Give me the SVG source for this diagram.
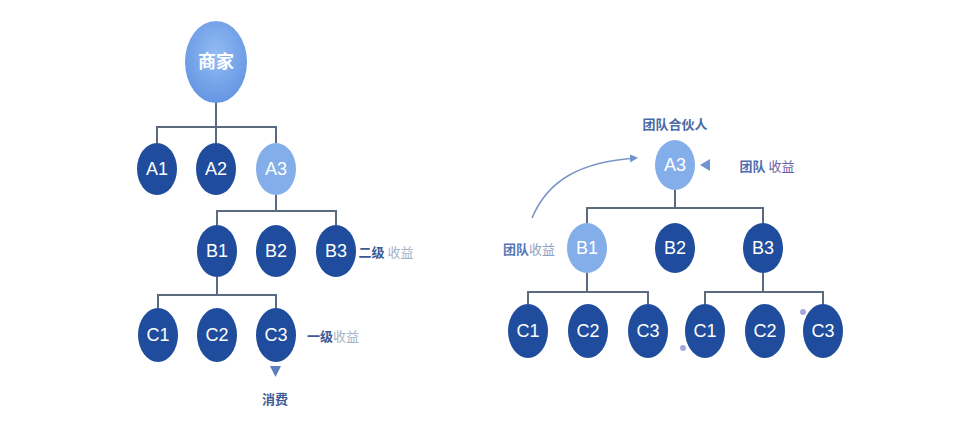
<svg xmlns="http://www.w3.org/2000/svg" width="962" height="438" viewBox="0 0 962 438">
<style>
.dk{fill:#1f4c9c}
.lt{fill:#84aee9}
.nt{font-family:"Liberation Sans","Noto Sans CJK SC",sans-serif;font-size:18px;fill:#ffffff;text-anchor:middle;dominant-baseline:central}
.ln{stroke:#5c6a80;stroke-width:2;fill:none}
.lb{font-family:"Noto Sans CJK SC",sans-serif;font-size:13px;text-anchor:middle;dominant-baseline:central}
</style>
<defs>
<radialGradient id="g1" cx="50%" cy="40%" r="60%">
<stop offset="0" stop-color="#94bcf3"/>
<stop offset="1" stop-color="#6596e3"/>
</radialGradient>
<marker id="ah" markerWidth="8" markerHeight="8" refX="6" refY="4" orient="auto" markerUnits="userSpaceOnUse">
<path d="M0,0 L8,4 L0,8 Z" fill="#6f93cf"/>
</marker>
</defs>
<rect width="962" height="438" fill="#ffffff"/>
<g id="connectors">
<path class="ln" d="M216,102 V127 M157,143 V127 H276 V143 M216,127 V143"/>
<path class="ln" d="M276,195 V211 M217,225 V211 H336 V225"/>
<path class="ln" d="M217,277 V295 M158,308 V295 H276 V308"/>
<path class="ln" d="M675,190 V208 M587,223 V208 H763 V223"/>
<path class="ln" d="M587,273 V292 M528,305 V292 H648 V305"/>
<path class="ln" d="M763,273 V292 M705,305 V292 H823 V305"/>
<path d="M532,218 C548,180 580,162 636,158" fill="none" stroke="#7c96c4" stroke-width="1.6" marker-end="url(#ah)"/>
<path d="M270,366 L281,366 L275.5,377 Z" fill="#5b7fbf"/>
<path d="M700,165 L710,159 L710,171 Z" fill="#6f93cf"/>
</g>
<g id="merchant"><ellipse cx="216" cy="62" rx="31" ry="41" fill="url(#g1)"/><text class="nt" x="216" y="62" font-size="22" font-weight="bold">商家</text></g>
<g id="L-A1"><ellipse class="dk" cx="157" cy="169" rx="20" ry="26"/><text class="nt" x="157" y="169">A1</text></g>
<g id="L-A2"><ellipse class="dk" cx="216" cy="169" rx="20" ry="26"/><text class="nt" x="216" y="169">A2</text></g>
<g id="L-A3"><ellipse class="lt" cx="276" cy="169" rx="20" ry="26"/><text class="nt" x="276" y="169">A3</text></g>
<g id="L-B1"><ellipse class="dk" cx="217" cy="251" rx="20" ry="26"/><text class="nt" x="217" y="251">B1</text></g>
<g id="L-B2"><ellipse class="dk" cx="276" cy="251" rx="20" ry="26"/><text class="nt" x="276" y="251">B2</text></g>
<g id="L-B3"><ellipse class="dk" cx="336" cy="251" rx="20" ry="26"/><text class="nt" x="336" y="251">B3</text></g>
<g id="L-C1"><ellipse class="dk" cx="158" cy="335" rx="20" ry="27"/><text class="nt" x="158" y="335">C1</text></g>
<g id="L-C2"><ellipse class="dk" cx="217" cy="335" rx="20" ry="27"/><text class="nt" x="217" y="335">C2</text></g>
<g id="L-C3"><ellipse class="dk" cx="276" cy="335" rx="20" ry="27"/><text class="nt" x="276" y="335">C3</text></g>
<g id="L-labels">
<text class="lb" x="386" y="251"><tspan fill="#3d5a96" font-weight="bold">二级</tspan><tspan fill="#a4b3c8"> 收益</tspan></text>
<text class="lb" x="333" y="335"><tspan fill="#3d5a96" font-weight="bold">一级</tspan><tspan fill="#a4b3c8">收益</tspan></text>
<text class="lb" x="275" y="398" fill="#3d5a96" font-weight="bold">消费</text>
</g>
<g id="R-A3"><ellipse class="lt" cx="675" cy="165" rx="20" ry="25"/><text class="nt" x="675" y="165">A3</text></g>
<g id="R-B1"><ellipse class="lt" cx="587" cy="248" rx="20" ry="25"/><text class="nt" x="587" y="248">B1</text></g>
<g id="R-B2"><ellipse class="dk" cx="675" cy="248" rx="20" ry="25"/><text class="nt" x="675" y="248">B2</text></g>
<g id="R-B3"><ellipse class="dk" cx="763" cy="248" rx="20" ry="25"/><text class="nt" x="763" y="248">B3</text></g>
<g id="R-C1a"><ellipse class="dk" cx="528" cy="331" rx="20" ry="27"/><text class="nt" x="528" y="331">C1</text></g>
<g id="R-C2a"><ellipse class="dk" cx="588" cy="331" rx="20" ry="27"/><text class="nt" x="588" y="331">C2</text></g>
<g id="R-C3a"><ellipse class="dk" cx="648" cy="331" rx="20" ry="27"/><text class="nt" x="648" y="331">C3</text></g>
<g id="R-C1b"><ellipse class="dk" cx="705" cy="331" rx="20" ry="27"/><text class="nt" x="705" y="331">C1</text></g>
<g id="R-C2b"><ellipse class="dk" cx="765" cy="331" rx="20" ry="27"/><text class="nt" x="765" y="331">C2</text></g>
<g id="R-C3b"><ellipse class="dk" cx="823" cy="331" rx="20" ry="27"/><text class="nt" x="823" y="331">C3</text></g>
<g id="R-labels">
<text class="lb" x="675" y="123" fill="#4b6aa6" font-weight="bold">团队合伙人</text>
<text class="lb" x="767" y="165"><tspan fill="#4f6fb0" font-weight="bold">团队</tspan><tspan fill="#6a5ea8"> 收益</tspan></text>
<text class="lb" x="529" y="248"><tspan fill="#5478b8" font-weight="bold">团队</tspan><tspan fill="#8fa2c4">收益</tspan></text>
</g>
<circle cx="683" cy="348" r="3" fill="#a6a8e0"/>
<circle cx="803" cy="312" r="3" fill="#a6a8e0"/>
</svg>
